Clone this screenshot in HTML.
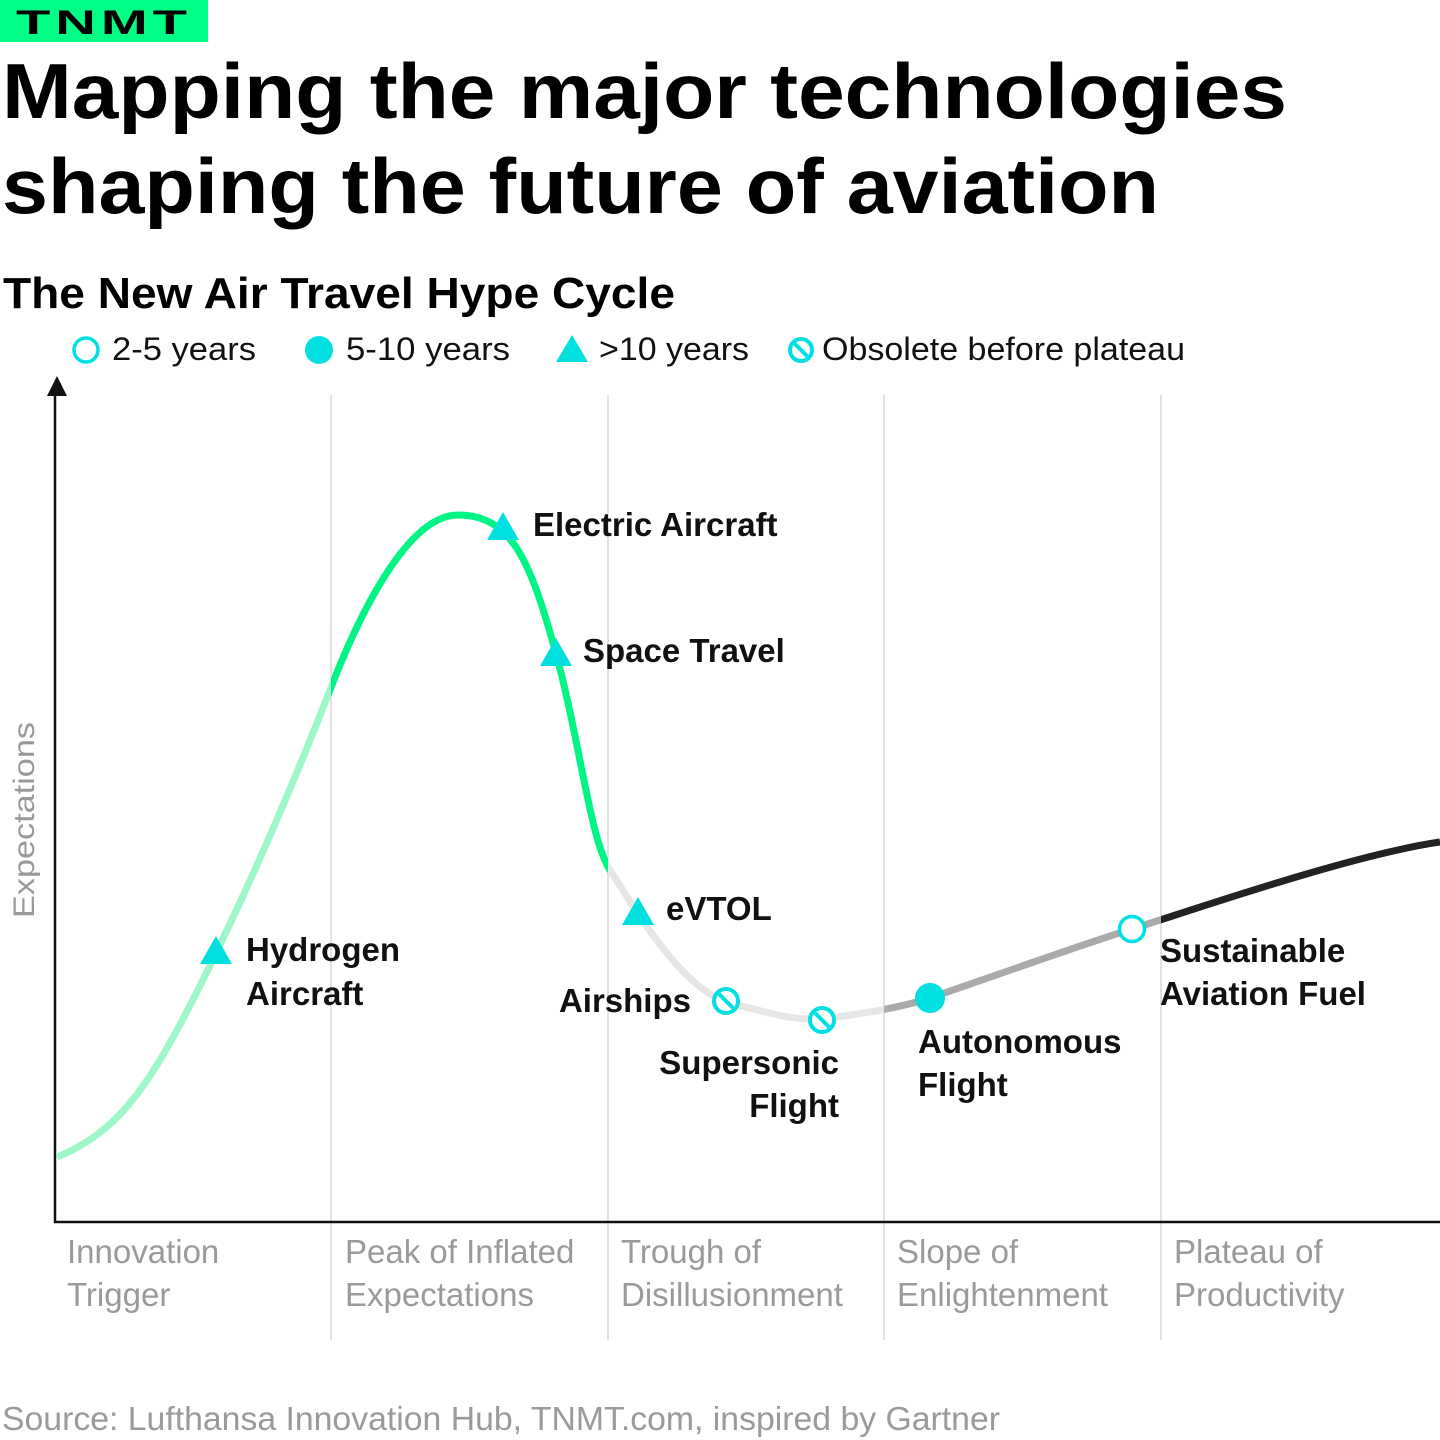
<!DOCTYPE html>
<html><head><meta charset="utf-8"><style>html,body{margin:0;padding:0;background:#fff}svg{display:block}</style></head>
<body>
<svg width="1440" height="1440" viewBox="0 0 1440 1440" xmlns="http://www.w3.org/2000/svg" font-family="Liberation Sans, sans-serif">
<defs>
<clipPath id="c1"><rect x="0" y="0" width="331" height="1440"/></clipPath>
<clipPath id="c2"><rect x="331" y="0" width="277" height="1440"/></clipPath>
<clipPath id="c3"><rect x="608" y="0" width="276" height="1440"/></clipPath>
<clipPath id="c4"><rect x="884" y="0" width="277" height="1440"/></clipPath>
<clipPath id="c5"><rect x="1161" y="0" width="300" height="1440"/></clipPath>
<path id="cv" d="M57,1157 C100,1140 130,1110 160,1060 S260,870 330,690 C355,625 405,515 458,515 S530,560 555,650 S590,840 610,870 S680,990 730,1003 S800,1022 830,1018 S900,1008 930,998 S1080,945 1132,929 S1350,855 1440,842" fill="none" stroke-width="7"/>
</defs>
<rect width="1440" height="1440" fill="#fff"/>
<rect x="0" y="0" width="208" height="42" fill="#00ff85"/>
<text x="104" y="34" text-anchor="middle" font-size="34" font-weight="bold" letter-spacing="3" textLength="176" lengthAdjust="spacingAndGlyphs">TNMT</text>
<text x="2" y="118" font-size="78" font-weight="bold" textLength="1285" lengthAdjust="spacingAndGlyphs">Mapping the major technologies</text>
<text x="2" y="213" font-size="78" font-weight="bold" textLength="1157" lengthAdjust="spacingAndGlyphs">shaping the future of aviation</text>
<text x="3" y="308" font-size="44" font-weight="bold" textLength="672" lengthAdjust="spacingAndGlyphs">The New Air Travel Hype Cycle</text>
<g font-size="32" fill="#111">
<circle cx="86" cy="350" r="12" fill="none" stroke="#00e0e0" stroke-width="3.5"/>
<text x="112" y="360" textLength="144" lengthAdjust="spacingAndGlyphs">2-5 years</text>
<circle cx="319" cy="350" r="14" fill="#00e0e0"/>
<text x="346" y="360" textLength="164" lengthAdjust="spacingAndGlyphs">5-10 years</text>
<polygon points="572,335 556,362 588,362" fill="#00e0e0"/>
<text x="599" y="360" textLength="150" lengthAdjust="spacingAndGlyphs">&gt;10 years</text>
<circle cx="801" cy="350" r="11" fill="none" stroke="#00e0e0" stroke-width="4"/><line x1="794" y1="343" x2="808" y2="357" stroke="#00e0e0" stroke-width="4"/>
<text x="822" y="360" textLength="363" lengthAdjust="spacingAndGlyphs">Obsolete before plateau</text>
</g>
<g stroke="#e2e2e2" stroke-width="2">
<line x1="331" y1="395" x2="331" y2="1340"/><line x1="608" y1="395" x2="608" y2="1340"/>
<line x1="884" y1="395" x2="884" y2="1340"/><line x1="1161" y1="395" x2="1161" y2="1340"/>
</g>
<line x1="55" y1="390" x2="55" y2="1223" stroke="#111" stroke-width="2.5"/>
<polygon points="57,376 47,396 67,396" fill="#111"/>
<line x1="54" y1="1222" x2="1440" y2="1222" stroke="#111" stroke-width="2.5"/>
<text transform="translate(34,918) rotate(-90)" font-size="30" fill="#999" textLength="196" lengthAdjust="spacingAndGlyphs">Expectations</text>
<use href="#cv" clip-path="url(#c1)" stroke="#9ef7c8"/>
<use href="#cv" clip-path="url(#c2)" stroke="#00f585"/>
<use href="#cv" clip-path="url(#c3)" stroke="#e6e6e6"/>
<use href="#cv" clip-path="url(#c4)" stroke="#aaaaaa"/>
<use href="#cv" clip-path="url(#c5)" stroke="#222"/>
<g fill="#00e0e0">
<polygon points="216,936 200,964 232,964"/>
<polygon points="503,512 487,540 519,540"/>
<polygon points="556,638 540,666 572,666"/>
<polygon points="638,897 622,925 654,925"/>
<circle cx="930" cy="998" r="15"/>
</g>
<circle cx="1132" cy="929" r="12.5" fill="#fff" stroke="#00e0e0" stroke-width="3.5"/>
<circle cx="726" cy="1001" r="12" fill="#fff" stroke="#00e0e0" stroke-width="4"/><line x1="719" y1="994" x2="733" y2="1008" stroke="#00e0e0" stroke-width="4"/>
<circle cx="822" cy="1020" r="12" fill="#fff" stroke="#00e0e0" stroke-width="4"/><line x1="815" y1="1013" x2="829" y2="1027" stroke="#00e0e0" stroke-width="4"/>
<g font-size="33" font-weight="bold" fill="#111">
<text x="533" y="536">Electric Aircraft</text>
<text x="583" y="662">Space Travel</text>
<text x="666" y="920">eVTOL</text>
<text x="246" y="961">Hydrogen</text>
<text x="246" y="1005">Aircraft</text>
<text x="691" y="1012" text-anchor="end">Airships</text>
<text x="839" y="1074" text-anchor="end">Supersonic</text>
<text x="839" y="1117" text-anchor="end">Flight</text>
<text x="918" y="1053">Autonomous</text>
<text x="918" y="1096">Flight</text>
<text x="1160" y="962">Sustainable</text>
<text x="1160" y="1005">Aviation Fuel</text>
</g>
<g font-size="33" fill="#9a9a9a">
<text x="67" y="1263">Innovation</text><text x="67" y="1306">Trigger</text>
<text x="345" y="1263">Peak of Inflated</text><text x="345" y="1306">Expectations</text>
<text x="621" y="1263">Trough of</text><text x="621" y="1306">Disillusionment</text>
<text x="897" y="1263">Slope of</text><text x="897" y="1306">Enlightenment</text>
<text x="1174" y="1263">Plateau of</text><text x="1174" y="1306">Productivity</text>
</g>
<text x="2" y="1430" font-size="33" fill="#9a9a9a" textLength="998" lengthAdjust="spacingAndGlyphs">Source: Lufthansa Innovation Hub, TNMT.com, inspired by Gartner</text>
</svg>
</body></html>
